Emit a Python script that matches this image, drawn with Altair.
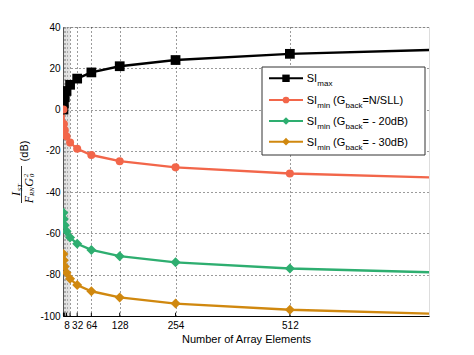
import altair as alt
import pandas as pd

# ---------------- data ----------------
N = [1, 2, 4, 8, 16, 32, 64, 128, 254, 512, 1024]
si_max = [0, 3, 6, 9, 12, 15, 18, 21, 24, 27, 30]
si_min_nsll = [0, -7, -10, -13, -16, -19, -22, -25, -28, -31, -34]
si_min_20 = [-50, -53, -56, -59, -62, -65, -68, -71, -74, -77, -80]
si_min_30 = [-70, -73, -76, -79, -82, -85, -88, -91, -94, -97, -100]

x_ticks = [1, 2, 4, 8, 16, 32, 64, 128, 254, 512]
x_labels_shown = [8, 32, 64, 128, 254, 512]
y_ticks = [-100, -80, -60, -40, -20, 0, 20, 40]

series_names = ["SImax", "SImin N/SLL", "SImin -20dB", "SImin -30dB"]
series_vals = [si_max, si_min_nsll, si_min_20, si_min_30]
series_colors = ["#000000", "#F2664A", "#2EAE70", "#D0880F"]
series_shapes = ["square", "circle", "diamond", "diamond"]
series_sizes = [95, 65, 100, 100]

# ---------------- layout ----------------
W, H = 366, 289
PAD = {"left": 63, "top": 27, "right": 45, "bottom": 39}
X_DOMAIN = [0, 826]
Y_DOMAIN = [-100, 40]
SANS = "Liberation Sans"
SERIF = "Liberation Serif"

xs = alt.Scale(domain=X_DOMAIN, nice=False, zero=False)
ys = alt.Scale(domain=Y_DOMAIN, nice=False, zero=False)

lbl_list = "[" + ",".join(str(v) for v in x_labels_shown) + "]"
x_axis = alt.Axis(
    values=x_ticks,
    labelExpr=f"indexof({lbl_list}, datum.value) >= 0 ? '' + datum.value : ''",
    title="Number of Array Elements",
    titleFontWeight="normal", titleFont=SANS, titleFontSize=11, titleColor="#000000",
    ticks=False, labelOverlap=False, labelFlush=False,
    labelPadding=4, titlePadding=3,
    grid=True, gridDash=[1, 3], gridColor="#222222", gridOpacity=0.9,
    domainColor="#000000",
)
y_axis = alt.Axis(
    values=y_ticks,
    labelExpr="'' + datum.value",
    title=None,
    ticks=False, labelPadding=3, labelFlush=False,
    grid=True, gridDash=[1, 3], gridColor="#222222", gridOpacity=0.9,
    domainColor="#000000",
)

layers = []

# hatched region near the origin (approximated by light fill)
hatch = alt.Chart(pd.DataFrame({"x0": [0], "x1": [16], "y0": [Y_DOMAIN[0]], "y1": [Y_DOMAIN[1]]})).mark_rect(
    color="#bdbdbd", opacity=0.45
).encode(
    x=alt.X("x0:Q", scale=xs, axis=x_axis),
    x2="x1:Q",
    y=alt.Y("y0:Q", scale=ys, axis=y_axis),
    y2="y1:Q",
)
layers.append(hatch)

# inner ticks at the bottom
tick_df = pd.DataFrame({"t": x_ticks, "y0": [Y_DOMAIN[0]] * len(x_ticks), "y1": [Y_DOMAIN[0] + 1.6] * len(x_ticks)})
layers.append(alt.Chart(tick_df).mark_rule(color="#000000", strokeWidth=1).encode(
    x=alt.X("t:Q", scale=xs), y=alt.Y("y0:Q", scale=ys), y2="y1:Q"))

for name, vals, col, shp, sz in zip(series_names, series_vals, series_colors, series_shapes, series_sizes):
    d = pd.DataFrame({"n": N, "v": vals, "s": name})
    layers.append(alt.Chart(d).mark_line(color=col, strokeWidth=2.4, clip=True).encode(
        x=alt.X("n:Q", scale=xs), y=alt.Y("v:Q", scale=ys)))
for name, vals, col, shp, sz in zip(series_names, series_vals, series_colors, series_shapes, series_sizes):
    d = pd.DataFrame({"n": N, "v": vals, "s": name})
    layers.append(alt.Chart(d).mark_point(color=col, fill=col, filled=True, opacity=1, shape=shp, size=sz, clip=True).encode(
        x=alt.X("n:Q", scale=xs), y=alt.Y("v:Q", scale=ys)))

# ---------------- y-axis title (fraction) ----------------
def txt(items, font, size, style="normal", angle=0, align="center", baseline="middle", color="#000000"):
    df = pd.DataFrame(items, columns=["px", "py", "t"])
    return alt.Chart(df).mark_text(font=font, fontSize=size, fontStyle=style, angle=angle,
                                   align=align, baseline=baseline, color=color).encode(
        x=alt.X("px:Q", scale=None, axis=None),
        y=alt.Y("py:Q", scale=None, axis=None),
        text="t:N")

layers.append(txt([(-38, 124, "(dB)")], SANS, 11, angle=270))
layers.append(txt([(-47, 167, "I"), (-34, 172.5, "F"), (-34, 155.5, "G")], SERIF, 12, style="italic", angle=270))
layers.append(txt([(-43.5, 160.5, "ST"), (-31, 164.5, "RN"), (-31, 148.5, "0"), (-37.5, 148.5, "2")], SERIF, 7, style="italic", angle=270))
frac = pd.DataFrame({"px": [-41.5], "py0": [139], "py1": [176]})
layers.append(alt.Chart(frac).mark_rule(color="#000000", strokeWidth=0.8).encode(
    x=alt.X("px:Q", scale=None, axis=None), y=alt.Y("py0:Q", scale=None, axis=None), y2="py1:Q"))

# ---------------- legend (manual, for subscripts) ----------------
LX0, LX1, LY0, LY1 = 199, 362, 40, 128
rows_y = [51.3, 73, 94, 114.7]
line_x0, line_x1, mark_x, text_x = 206, 240, 223, 243.7

box = pd.DataFrame({"a": [LX0], "b": [LX1], "c": [LY0], "d": [LY1]})
layers.append(alt.Chart(box).mark_rect(fill="#ffffff", stroke="#333333", strokeWidth=1).encode(
    x=alt.X("a:Q", scale=None, axis=None), x2="b:Q",
    y=alt.Y("c:Q", scale=None, axis=None), y2="d:Q"))

for ry, col, shp in zip(rows_y, series_colors, series_shapes):
    ld = pd.DataFrame({"a": [line_x0], "b": [line_x1], "y": [ry]})
    layers.append(alt.Chart(ld).mark_rule(color=col, strokeWidth=2).encode(
        x=alt.X("a:Q", scale=None, axis=None), x2="b:Q", y=alt.Y("y:Q", scale=None, axis=None)))
    md = pd.DataFrame({"x": [mark_x], "y": [ry]})
    layers.append(alt.Chart(md).mark_point(color=col, fill=col, filled=True, opacity=1, shape=shp,
                                           size=55 if shp == "square" else (45 if shp == "circle" else 60)).encode(
        x=alt.X("x:Q", scale=None, axis=None), y=alt.Y("y:Q", scale=None, axis=None)))

rest_texts = ["=N/SLL)", "= - 20dB)", "= - 30dB)"]
main_items, sub_items = [], []
for i, ry in enumerate(rows_y):
    bmain = ry + 4
    bsub = ry + 8
    main_items.append((text_x, bmain, "SI"))
    if i == 0:
        sub_items.append((text_x + 10.6, bsub, "max"))
    else:
        sub_items.append((text_x + 10.6, bsub, "min"))
        main_items.append((text_x + 26.4, bmain, "(G"))
        sub_items.append((text_x + 38.8, bsub, "back"))
        main_items.append((text_x + 55.7, bmain, rest_texts[i - 1]))

layers.append(txt(main_items, SANS, 11, align="left", baseline="alphabetic"))
layers.append(txt(sub_items, SANS, 8, align="left", baseline="alphabetic"))

chart = alt.layer(*layers).properties(
    width=W, height=H,
    autosize=alt.AutoSizeParams(type="none"),
    padding=PAD,
).configure_view(
    stroke="#000000", strokeWidth=1
).configure_axis(
    labelFont=SANS, labelFontSize=11, labelColor="#000000",
    titleFont=SANS, titleFontSize=11, titleFontWeight="normal", titleColor="#000000",
).configure(background="#ffffff")

chart.save("out.html", embed_options={"renderer": "svg", "actions": False})
